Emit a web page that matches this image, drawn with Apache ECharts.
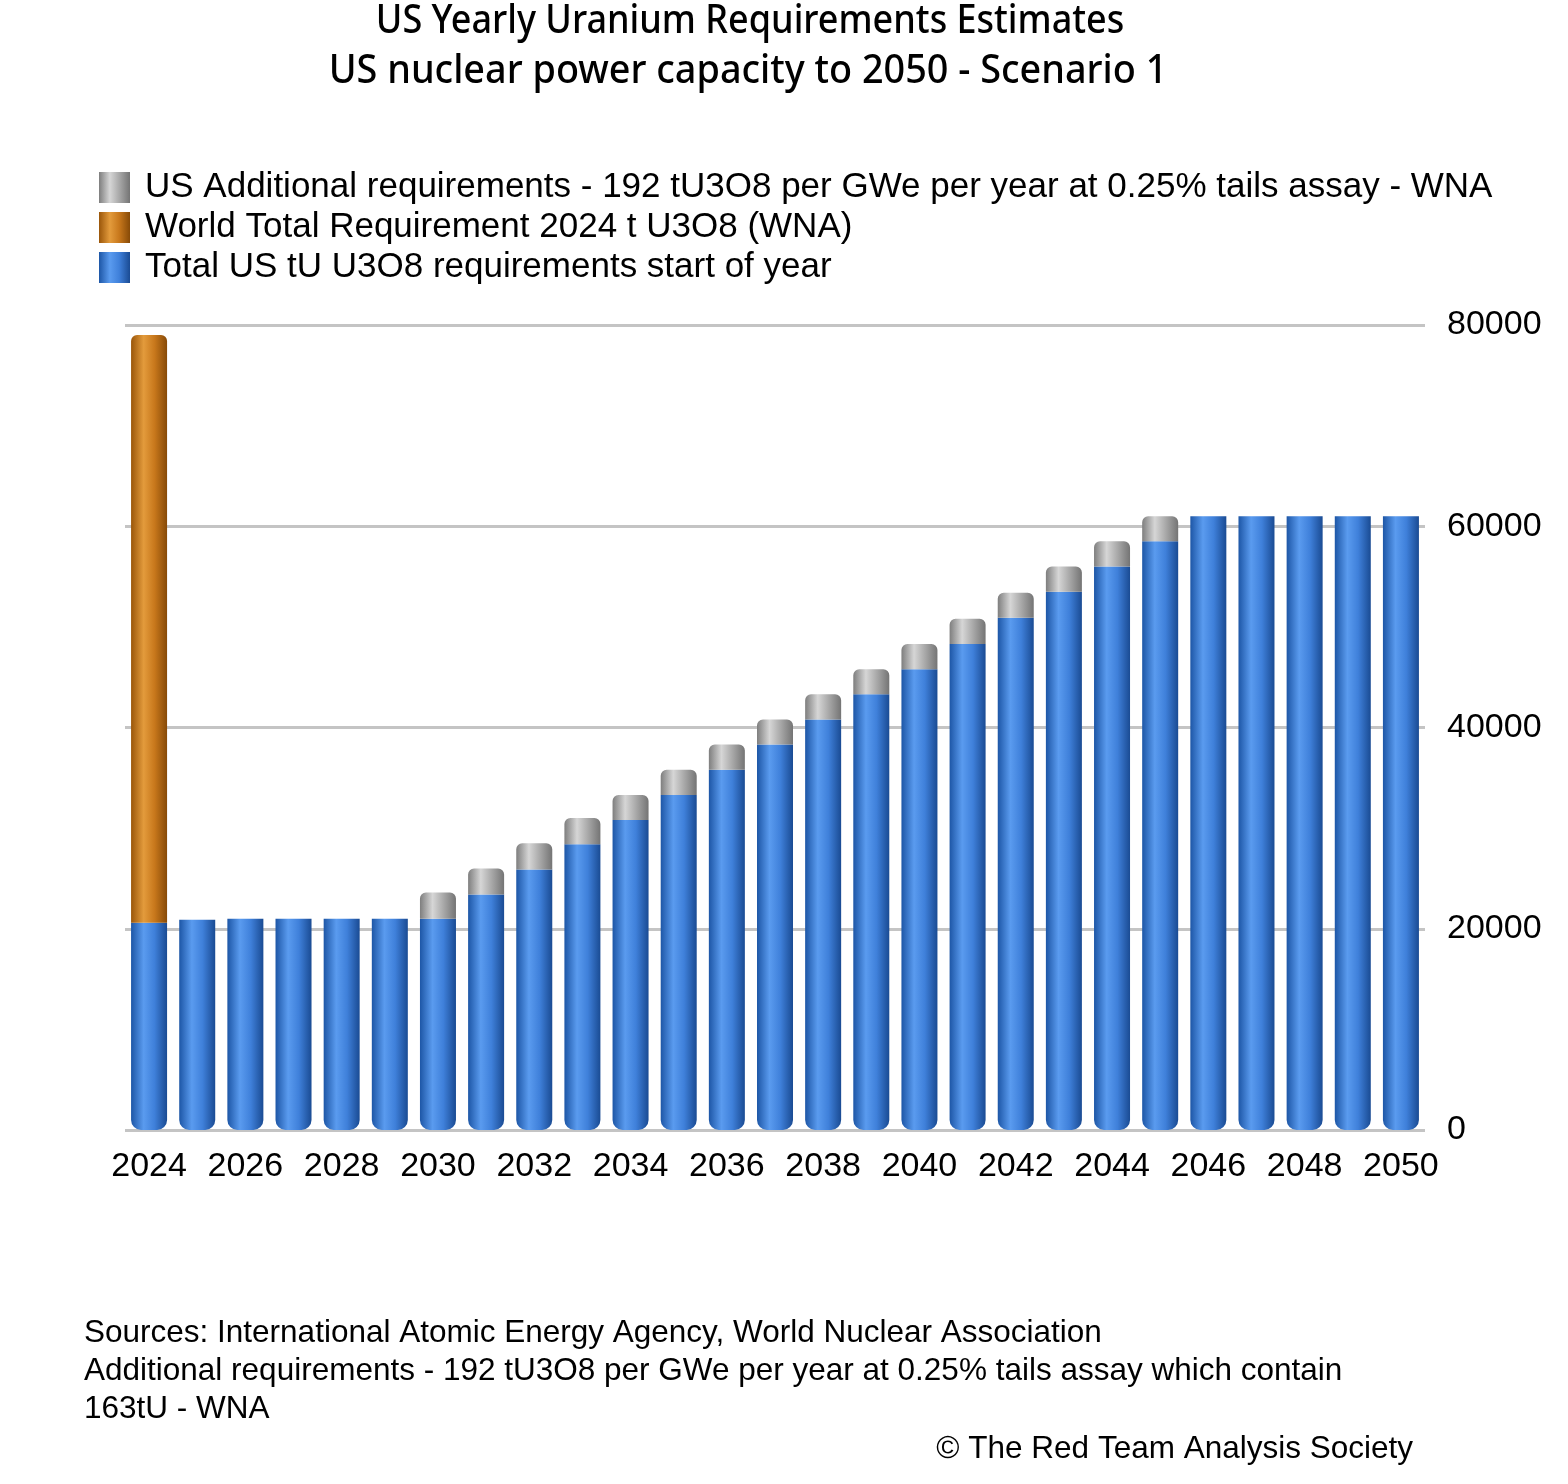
<!DOCTYPE html>
<html>
<head>
<meta charset="utf-8">
<script src="https://cdn.jsdelivr.net/npm/echarts@6/dist/echarts.min.js"></script>
<style>
  html, body { margin: 0; padding: 0; background: #fff; }
  #chart { width: 1568px; height: 1484px; }
</style>
</head>
<body>
<div id="chart"></div>
<script>
// years 2024 - 2050
const years = ['2024', '2025', '2026', '2027', '2028', '2029', '2030', '2031', '2032',
  '2033', '2034', '2035', '2036', '2037', '2038', '2039', '2040', '2041', '2042',
  '2043', '2044', '2045', '2046', '2047', '2048', '2049', '2050']

// Total US tU U3O8 requirements start of year
const usTotal = [20600, 20900, 21000, 21000, 21000, 21000, 21000, 23400, 25900,
  28400, 30800, 33300, 35800, 38300, 40800, 43300, 45800, 48300, 50900,
  53500, 56000, 58500, 61000, 61000, 61000, 61000, 61000]

// US additional requirements (gray caps)
const usAdditional = [0, 0, 0, 0, 0, 0, 2600, 2600, 2600, 2600, 2500, 2500, 2500,
  2500, 2500, 2500, 2500, 2500, 2500, 2500, 2500, 2500, 0, 0, 0, 0, 0]

// World total requirement 2024, stacked above the US 2024 bar (79000 in total)
const worldExtra = [58400, 0, 0, 0, 0, 0, 0, 0, 0, 0, 0, 0, 0, 0, 0, 0, 0, 0, 0,
  0, 0, 0, 0, 0, 0, 0, 0]

const yTicks = [0, 20000, 40000, 60000, 80000]

const names = {
  add: 'US Additional requirements - 192 tU3O8 per GWe per year at 0.25% tails assay - WNA',
  world: 'World Total Requirement 2024 t U3O8 (WNA)',
  us: 'Total US tU U3O8 requirements start of year'
}

const titleLines = ['US Yearly Uranium Requirements Estimates', 'US nuclear power capacity to 2050 - Scenario 1']

// cylinder-like shading
const grad = (c0, c1, c2, c3) => new echarts.graphic.LinearGradient(0, 0, 1, 0, [
  { offset: 0, color: c0 },
  { offset: 0.35, color: c1 },
  { offset: 0.65, color: c2 },
  { offset: 1, color: c3 }
])

const chart = echarts.init(document.getElementById('chart'))

const footFont = '31.5px "Liberation Sans"'
// condensed title: normal sans squeezed horizontally
const titleFont = '500 40px "Noto Sans"'

const option = {
  backgroundColor: '#fff',
  legend: {
    orient: 'vertical',
    left: 94,
    top: 165,
    icon: 'rect',
    itemWidth: 31,
    itemHeight: 31,
    itemGap: 5,
    selectedMode: false,
    data: [names.add, names.world, names.us],
    textStyle: { fontFamily: 'Liberation Sans', fontSize: 35, color: '#000', padding: [0, 0, 0, 10] }
  },
  grid: {
    left: 125,
    right: 143,
    top: 325,
    bottom: 354
  },
  xAxis: {
    type: 'category',
    data: years,
    axisLine: { show: false },
    axisTick: { show: false },
    axisLabel: {
      interval: 1,
      margin: 20,
      fontFamily: 'Liberation Sans',
      fontSize: 34,
      color: '#000'
    }
  },
  yAxis: {
    type: 'value',
    position: 'right',
    min: yTicks[0],
    max: yTicks[yTicks.length - 1],
    interval: 20000,
    axisLine: { show: false },
    axisTick: { show: false },
    axisLabel: {
      margin: 22,
      fontFamily: 'Liberation Sans',
      fontSize: 34,
      color: '#000',
      formatter: v => String(v)
    },
    splitLine: { lineStyle: { color: '#c4c4c4', width: 3 } }
  },
  series: [
    {
      name: names.us,
      type: 'bar',
      stack: 'req',
      barWidth: 36,
      data: usTotal,
      itemStyle: {
        color: grad('#1d56a6', '#5a9bef', '#3f80da', '#1a4b93'),
        borderRadius: [0, 0, 10, 10]
      }
    },
    {
      name: names.add,
      type: 'bar',
      stack: 'req',
      data: usAdditional,
      itemStyle: {
        color: grad('#7e7e7e', '#d6d6d6', '#a9a9a9', '#747474'),
        borderRadius: [6, 6, 0, 0]
      }
    },
    {
      name: names.world,
      type: 'bar',
      stack: 'req',
      data: worldExtra,
      itemStyle: {
        color: grad('#9a560a', '#e39b3c', '#c8781c', '#874a07'),
        borderRadius: [6, 6, 0, 0]
      }
    }
  ],
  graphic: [
    {
      type: 'text', x: 750, y: 22, scaleX: 0.9,
      style: { text: titleLines[0], font: titleFont, fill: '#000', align: 'center', verticalAlign: 'middle' }
    },
    {
      type: 'text', x: 748, y: 72, scaleX: 0.945,
      style: { text: titleLines[1], font: titleFont, fill: '#000', align: 'center', verticalAlign: 'middle' }
    },
    {
      type: 'text', left: 84, top: 1317,
      style: { text: 'Sources: International Atomic Energy Agency, World Nuclear Association', font: footFont, fill: '#000' }
    },
    {
      type: 'text', left: 84, top: 1355,
      style: { text: 'Additional requirements - 192 tU3O8 per GWe per year at 0.25% tails assay which contain', font: footFont, fill: '#000' }
    },
    {
      type: 'text', left: 84, top: 1393,
      style: { text: '163tU - WNA', font: footFont, fill: '#000' }
    },
    {
      type: 'text', right: 155, top: 1433,
      style: { text: '\u00a9 The Red Team Analysis Society', font: footFont, fill: '#000' }
    }
  ]
}

chart.setOption(option)
</script>
</body>
</html>
